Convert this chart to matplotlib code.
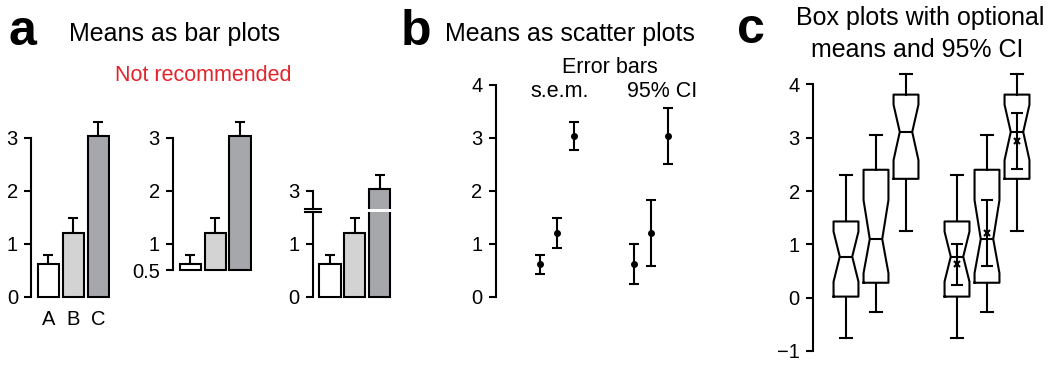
import numpy as np
import matplotlib
matplotlib.use('Agg')
import matplotlib.pyplot as plt

plt.rcParams['font.family'] = ['Liberation Sans', 'DejaVu Sans']

# group means with s.e.m. and 95% CI half widths
categories = ['A', 'B', 'C']
means = [0.62, 1.21, 3.03]
sem = [0.18, 0.28, 0.26]
ci95 = [0.38, 0.62, 0.53]
bar_colors = ['white', '#d3d3d4', '#a6a7aa']

# box plot summaries (panel c)
box_med = [0.77, 1.10, 3.11]
box_q1 = [0.02, 0.28, 2.23]
box_q3 = [1.43, 2.40, 3.81]
box_lo = [-0.75, -0.27, 1.26]
box_hi = [2.31, 3.06, 4.19]
notch_lo = [0.30, 0.46, 2.58]
notch_hi = [1.24, 1.83, 3.62]
c_means = [0.63, 1.22, 2.94]
c_ci_lo = [0.24, 0.59, 2.41]
c_ci_hi = [1.00, 1.83, 3.47]

W, H = 1050, 366
LW = 1.5
TICK_FS = 14.5


def add_ax(fig, left, top, bottom, width):
    return fig.add_axes([left / W, 1 - bottom / H, width / W, (bottom - top) / H])


def style(ax, lo, hi):
    for s in ['top', 'right', 'bottom']:
        ax.spines[s].set_visible(False)
    ax.spines['left'].set_linewidth(LW)
    ax.spines['left'].set_bounds(lo, hi)
    ax.set_xticks([])
    ax.tick_params(axis='y', direction='out', length=5, width=LW, pad=4.5,
                   labelsize=TICK_FS)


def bars(ax, base, heights, errs):
    x = np.arange(1, 4)
    ax.bar(x, np.array(heights) - base, bottom=base, width=0.85,
           color=bar_colors, edgecolor='black', linewidth=LW, zorder=2)
    ax.errorbar(x, heights, yerr=[np.zeros(3), errs], fmt='none',
                ecolor='black', elinewidth=LW, capsize=3.6, capthick=LW,
                zorder=1)
    ax.set_xlim(0.3, 3.5)
    ax.set_ylim(-0.1, 4.3)


fig = plt.figure(figsize=(W / 100, H / 100), dpi=100)
top, bot = 68.7, 302.3
bw = 3.2 * 24.8

# panel a: plain bars
ax1 = add_ax(fig, 31.1, top, bot, bw)
bars(ax1, 0, means, sem)
style(ax1, 0, 3)
ax1.set_yticks([0, 1, 2, 3])
for i, c in enumerate(categories):
    ax1.text(i + 1, -0.25, c, ha='center', va='top', fontsize=TICK_FS)

# truncated axis starting at 0.5
ax2 = add_ax(fig, 173, top, bot, bw)
bars(ax2, 0.5, means, sem)
style(ax2, 0.5, 3)
ax2.set_yticks([0.5, 1, 2, 3])
ax2.set_yticklabels(['0.5', '1', '2', '3'])

# broken axis
shift = np.where(np.array(means) > 2.5, 1.0, 0.0)
ax3 = add_ax(fig, 312.6, top, bot, bw)
bars(ax3, 0, np.array(means) - shift, sem)
ax3.bar(3, 0.06, bottom=1.6, width=1.0, color='white', zorder=3)
style(ax3, 0, 2)
ax3.spines['left'].set_visible(False)
tr = ax3.get_yaxis_transform()
ax3.plot([0, 0], [0, 1.6], color='black', lw=LW, transform=tr, clip_on=False)
ax3.plot([0, 0], [1.66, 2], color='black', lw=LW, transform=tr, clip_on=False)
for yb in [1.6, 1.66]:
    ax3.plot([-0.1, 0.1], [yb, yb], color='black', lw=LW, transform=tr,
             clip_on=False)
ax3.set_yticks([0, 1, 2])
ax3.set_yticklabels(['0', '1', '3'])

# panel b: means with error bars
axb = add_ax(fig, 495.7, top, bot, 200)
off = np.array([-0.85, 0, 0.85])
for center, err in [(3.07, sem), (7.77, ci95)]:
    axb.errorbar(center + off, means, yerr=err, fmt='o', color='black',
                 markersize=4, elinewidth=LW, capsize=3.6, capthick=LW)
axb.set_xlim(0, 10)
axb.set_ylim(-0.1, 4.3)
style(axb, 0, 4)
axb.set_yticks([0, 1, 2, 3, 4])

# panel c: notched box plots
axc = add_ax(fig, 813, 68.5, 356.3, 228)
stats = []
for k in range(6):
    i = k % 3
    stats.append(dict(med=box_med[i], q1=box_q1[i], q3=box_q3[i],
                      whislo=box_lo[i], whishi=box_hi[i], cilo=notch_lo[i],
                      cihi=notch_hi[i], fliers=[]))
pos = [1.1, 2.1, 3.1, 4.8, 5.8, 6.8]
lp = dict(color='black', linewidth=LW)
axc.bxp(stats, positions=pos, widths=0.83, shownotches=True, showfliers=False,
        boxprops=lp, whiskerprops=lp, capprops=lp, medianprops=lp,
        manage_ticks=False)
cm = np.array(c_means)
axc.errorbar(pos[3:], cm, yerr=[cm - np.array(c_ci_lo), np.array(c_ci_hi) - cm],
             fmt='x', color='black', markersize=4, mew=1.5, elinewidth=LW,
             capsize=4.3, capthick=LW)
axc.set_xlim(0, 7.6)
axc.set_ylim(-1.1, 4.3)
style(axc, -1, 4)
axc.set_yticks([-1, 0, 1, 2, 3, 4])

# titles and annotations
def ftext(x, y, s, **kw):
    fig.text(x / W, 1 - y / H, s, va='baseline', **kw)


letter = dict(fontsize=36, weight='bold')
ftext(9, 45, 'a', **letter)
ftext(175, 41, 'Means as bar plots', ha='center', fontsize=18)
ftext(203, 81, 'Not recommended', ha='center', fontsize=15.5, color='#e3242b')
ftext(401, 45, 'b', **letter)
ftext(445, 41, 'Means as scatter plots', ha='left', fontsize=18)
ftext(610, 72.7, 'Error bars', ha='center', fontsize=15.5)
ftext(560, 96.7, 's.e.m.', ha='center', fontsize=15.5)
ftext(662, 96.7, '95% CI', ha='center', fontsize=15.5)
ftext(737, 43, 'c', **letter)
ftext(920, 25, 'Box plots with optional', ha='center', fontsize=18)
ftext(917, 56.7, 'means and 95% CI', ha='center', fontsize=18)

fig.savefig('out.png', dpi=100)
